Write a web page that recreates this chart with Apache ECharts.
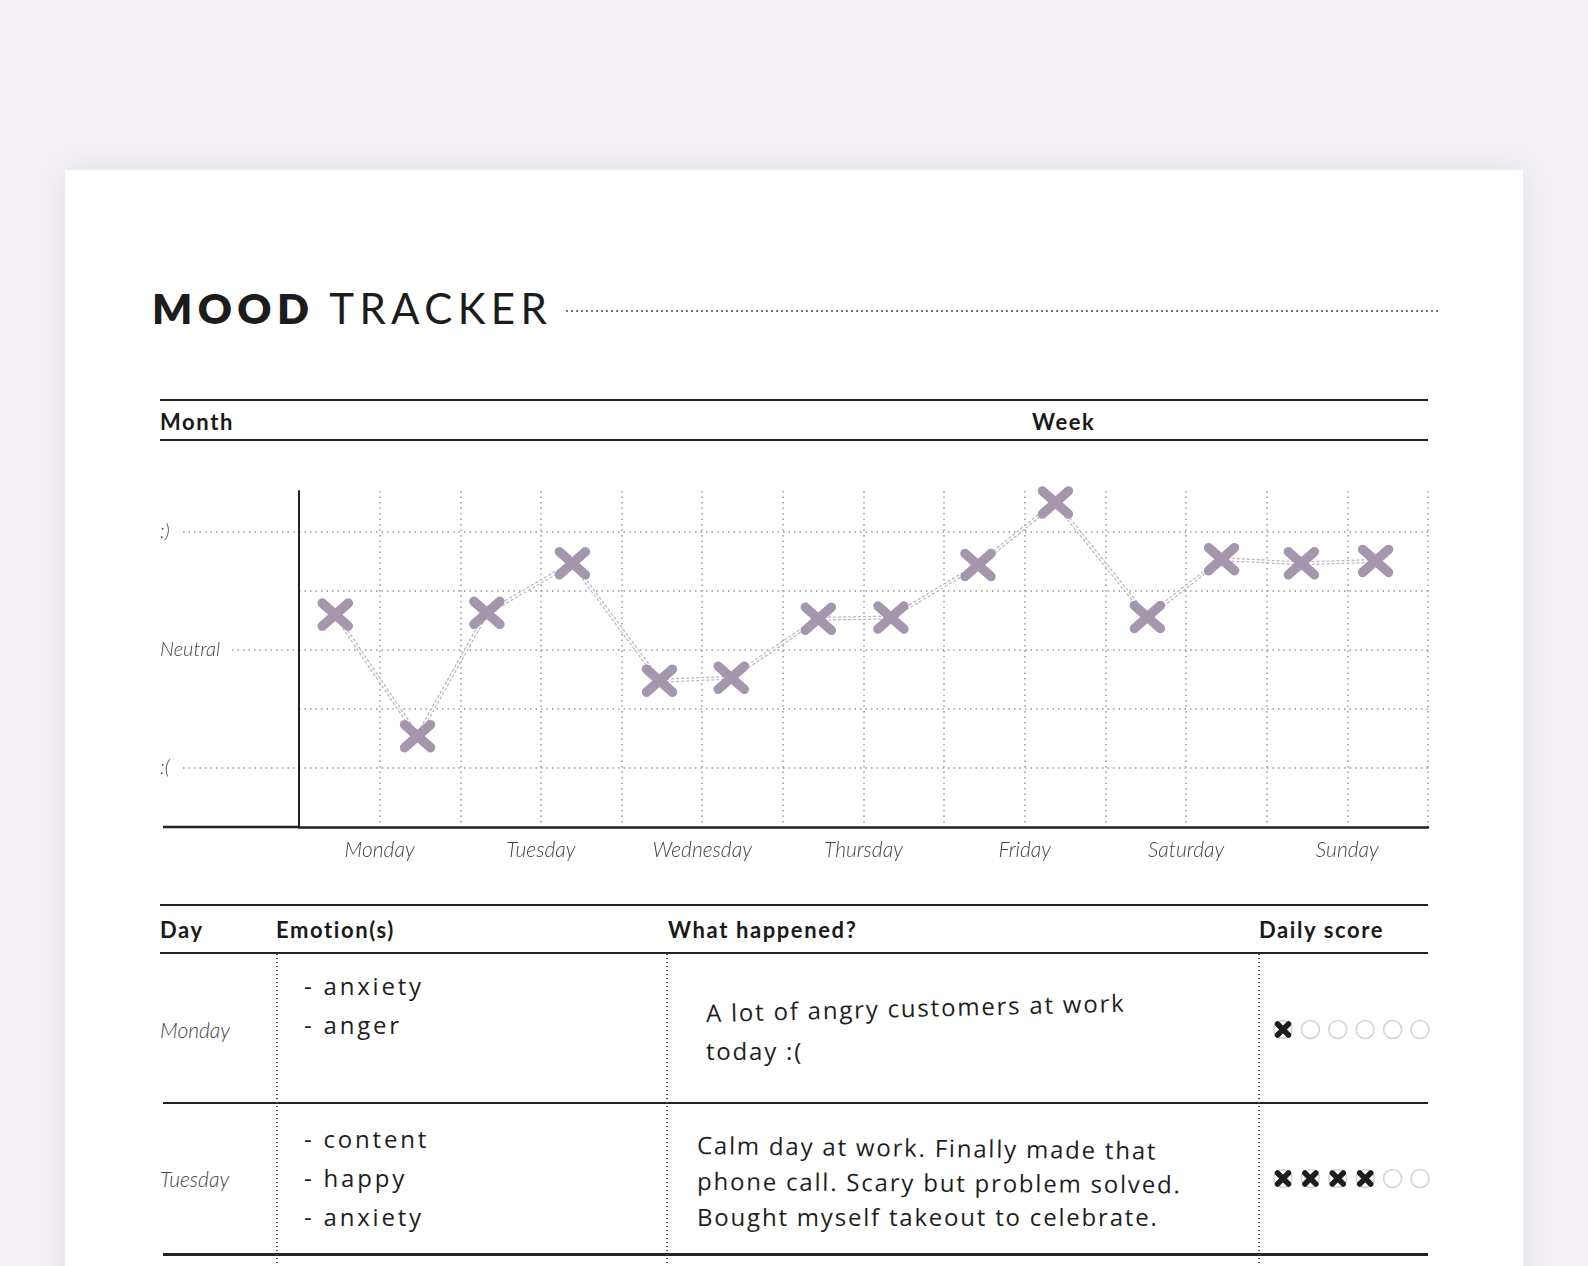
<!DOCTYPE html>
<html><head><meta charset="utf-8">
<script src="https://cdn.jsdelivr.net/npm/echarts@6/dist/echarts.min.js"></script>
<style>
html,body{margin:0;padding:0;width:1588px;height:1266px;overflow:hidden;background:#f3f1f5;font-family:Lato,'Open Sans',sans-serif;}
#paper{position:absolute;left:65px;top:170px;width:1458px;height:1200px;background:#fff;box-shadow:0 0 30px rgba(90,80,110,0.10);}
.t{position:absolute;white-space:nowrap;line-height:1;transform:translateY(-50%);}
.hline{position:absolute;height:2px;background:#222;}
.vdot{position:absolute;width:2px;background-image:linear-gradient(#555 0 1.5px, transparent 1.5px);background-size:2px 4px;}
.hd{font-weight:700;font-size:22px;letter-spacing:1.6px;color:#1a1a1a;}
.day{font-style:italic;font-weight:300;font-size:21px;color:#444;}
.hand{font-family:'Open Sans',sans-serif;font-size:24px;color:#1e1e1e;}
.emo{letter-spacing:2.8px;}
.note{letter-spacing:1.8px;}
#title{position:absolute;left:152px;top:287px;font-size:42px;line-height:42px;letter-spacing:5.4px;color:#1c1c1c;white-space:nowrap;}
#title b{font-weight:800;}
#tdots{position:absolute;left:566px;top:310px;width:872px;height:2px;background-image:linear-gradient(to right,#777 0 1.6px,transparent 1.6px);background-size:5px 2px;}
#chart{position:absolute;left:0;top:0;width:1588px;height:1266px;}
</style></head>
<body>
<div id="paper"></div>
<div id="title"><b>MOOD</b> TRACKER</div>
<div id="tdots"></div>

<div class="hline" style="left:160px;top:399px;width:1268px;"></div>
<div class="t hd" style="left:160px;top:422px;">Month</div>
<div class="t hd" style="left:1032px;top:422px;">Week</div>
<div class="hline" style="left:160px;top:439px;width:1268px;"></div>

<div class="hline" style="left:160px;top:904px;width:1268px;"></div>
<div class="t hd" style="left:160px;top:930px;">Day</div>
<div class="t hd" style="left:276px;top:930px;">Emotion(s)</div>
<div class="t hd" style="left:668px;top:930px;">What happened?</div>
<div class="t hd" style="left:1259px;top:930px;">Daily score</div>
<div class="hline" style="left:160px;top:952px;width:1268px;"></div>
<div class="hline" style="left:163px;top:1102px;width:1265px;"></div>
<div class="hline" style="left:163px;top:1253px;width:1265px;height:2.5px;"></div>
<div class="vdot" style="left:276px;top:954px;height:312px;"></div>
<div class="vdot" style="left:666px;top:954px;height:312px;"></div>
<div class="vdot" style="left:1258px;top:954px;height:312px;"></div>

<div class="t day" style="left:160px;top:1029px;">Monday</div>
<div class="t hand emo" style="left:304px;top:986px;">- anxiety</div>
<div class="t hand emo" style="left:304px;top:1025px;">- anger</div>
<div class="t hand note" style="left:706px;top:1013px;transform:translateY(-50%) rotate(-1.4deg);transform-origin:left center;">A lot of angry customers at work</div>
<div class="t hand note" style="left:706px;top:1051px;">today :(</div>

<div class="t day" style="left:160px;top:1178px;">Tuesday</div>
<div class="t hand emo" style="left:304px;top:1139px;">- content</div>
<div class="t hand emo" style="left:304px;top:1178px;">- happy</div>
<div class="t hand emo" style="left:304px;top:1217px;">- anxiety</div>
<div class="t hand note" style="left:697px;top:1145px;transform:translateY(-50%) rotate(0.7deg);transform-origin:left center;">Calm day at work. Finally made that</div>
<div class="t hand note" style="left:697px;top:1181px;transform:translateY(-50%) rotate(0.4deg);transform-origin:left center;">phone call. Scary but problem solved.</div>
<div class="t hand note" style="left:697px;top:1217px;">Bought myself takeout to celebrate.</div>

<div id="chart"></div>
<script>
// ---- data ----
const days = ['Monday', 'Tuesday', 'Wednesday', 'Thursday', 'Friday', 'Saturday', 'Sunday'];
const moodX = [0.45, 1.47, 2.33, 3.39, 4.47, 5.36, 6.44, 7.34, 8.42, 9.38, 10.52, 11.44, 12.43, 13.35];
const moodY = [0.60, -1.46, 0.63, 1.47, -0.52, -0.47, 0.53, 0.55, 1.44, 2.50, 0.56, 1.54, 1.47, 1.51];
const yTickLabels = { '2': ':)', '0': 'Neutral', '-2': ':(' };
const scoreDays = ['Monday', 'Tuesday'];
const scores = [1, 4];
const maxScore = 6;

// ---- build ----
const moodData = moodX.map((x, i) => [x, moodY[i]]);
const circleData = [];
const markData = [];
scoreDays.forEach((d, di) => {
  for (let i = 0; i < maxScore; i++) {
    circleData.push([i, d]);
    if (i < scores[di]) markData.push([i, d]);
  }
});

const chart = echarts.init(document.getElementById('chart'), null, { renderer: 'canvas' });
const MARK = '#a497ad';
const option = {
  animation: false,
  backgroundColor: 'transparent',
  grid: [
    { left: 299, top: 491, width: 1129, height: 336 },
    { left: 1283, top: 955, width: 137, height: 298 }
  ],
  xAxis: [
    {
      gridIndex: 0, type: 'value', min: 0, max: 14, interval: 1,
      axisLine: { show: true, onZero: false, lineStyle: { color: '#222', width: 2.5 } },
      axisTick: { show: false },
      axisLabel: {
        margin: 13, color: '#444', fontFamily: 'Lato', fontStyle: 'italic', fontWeight: 300, fontSize: 21,
        formatter: v => (v % 2 === 1 ? days[(v - 1) / 2] : '')
      },
      splitLine: { show: true, lineStyle: { color: '#999', width: 1.5, type: [1.5, 4] } }
    },
    { gridIndex: 1, type: 'value', min: 0, max: maxScore - 1, show: false }
  ],
  yAxis: [
    {
      gridIndex: 0, type: 'value', min: -3, max: 2 + 41 / 59, interval: 1,
      axisLine: { show: true, onZero: false, lineStyle: { color: '#222', width: 2 } },
      axisTick: { show: false },
      axisLabel: {
        align: 'left', margin: 139, color: '#444', fontFamily: 'Lato', fontStyle: 'italic', fontWeight: 300, fontSize: 20,
        formatter: v => (yTickLabels[String(v)] || '')
      },
      splitLine: { show: true, showMaxLine: false, showMinLine: false, lineStyle: { color: '#999', width: 1.5, type: [1.5, 4] } }
    },
    { gridIndex: 1, type: 'category', data: scoreDays, inverse: true, show: false }
  ],
  series: [
    {
      type: 'line', xAxisIndex: 0, yAxisIndex: 0, data: moodData, symbol: 'none', z: 2,
      lineStyle: { color: '#bab5c0', width: 4, type: [3, 2] }
    },
    {
      type: 'line', xAxisIndex: 0, yAxisIndex: 0, data: moodData, symbol: 'none', z: 3,
      lineStyle: { color: '#ffffff', width: 1.5 }
    },
    {
      type: 'custom', xAxisIndex: 0, yAxisIndex: 0, data: moodData, z: 4,
      renderItem: (params, api) => {
        const p = api.coord([api.value(0), api.value(1)]);
        const a = 13, b = 11.5;
        const st = { stroke: MARK, lineWidth: 9.5, lineCap: 'round' };
        return {
          type: 'group', children: [
            { type: 'line', shape: { x1: p[0] - a, y1: p[1] - b, x2: p[0] + a, y2: p[1] + b }, style: st },
            { type: 'line', shape: { x1: p[0] + a, y1: p[1] - b, x2: p[0] - a, y2: p[1] + b }, style: st }
          ]
        };
      }
    },
    {
      type: 'scatter', xAxisIndex: 1, yAxisIndex: 1, data: circleData, symbol: 'circle', symbolSize: 18, z: 2,
      itemStyle: { color: '#fff', borderColor: '#cacaca', borderWidth: 1.6 }
    },
    {
      type: 'custom', xAxisIndex: 1, yAxisIndex: 1, data: markData, z: 4,
      renderItem: (params, api) => {
        const p = api.coord([api.value(0), api.value(1)]);
        const a = 5.5, b = 5.5;
        const st = { stroke: '#1d1d1d', lineWidth: 5.5, lineCap: 'round' };
        return {
          type: 'group', children: [
            { type: 'line', shape: { x1: p[0] - a, y1: p[1] - b, x2: p[0] + a, y2: p[1] + b }, style: st },
            { type: 'line', shape: { x1: p[0] + a, y1: p[1] - b, x2: p[0] - a, y2: p[1] + b }, style: st }
          ]
        };
      }
    }
  ]
};
chart.setOption(option);

// dotted extensions left of the axis and the left part of the base line
const yPx = v => chart.convertToPixel({ gridIndex: 0 }, [0, v])[1];
const x0 = chart.convertToPixel({ gridIndex: 0 }, [0, 0])[0];
const dotStyle = { stroke: '#999', lineWidth: 1.5, lineDash: [1.5, 4] };
chart.setOption({
  graphic: [
    { type: 'line', shape: { x1: 183, y1: yPx(2), x2: x0, y2: yPx(2) }, style: dotStyle },
    { type: 'line', shape: { x1: 232, y1: yPx(0), x2: x0, y2: yPx(0) }, style: dotStyle },
    { type: 'line', shape: { x1: 183, y1: yPx(-2), x2: x0, y2: yPx(-2) }, style: dotStyle },
    { type: 'line', shape: { x1: 163, y1: yPx(-3), x2: x0, y2: yPx(-3) }, style: { stroke: '#222', lineWidth: 2.5 } }
  ]
});
</script>
</body></html>
